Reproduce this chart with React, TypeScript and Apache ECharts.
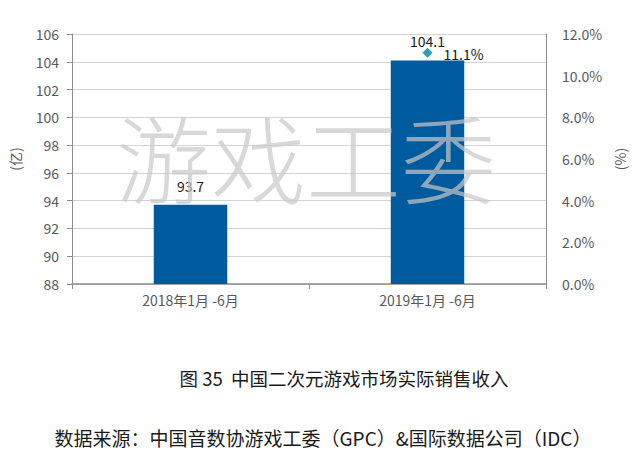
import React, { useEffect, useRef } from "react";
import * as echarts from "echarts";

const categories = ["2018年1月 -6月", "2019年1月 -6月"];
const revenue = [93.7, 104.1];
const growth: (number | null)[] = [null, 11.1];
const leftMin = 88;
const leftMax = 106;
const rightMin = 0;
const rightMax = 12;
const titleText = "图 35  中国二次元游戏市场实际销售收入";
const sourceText = "数据来源：中国音数协游戏工委（GPC）&国际数据公司（IDC）";
const watermark = "游戏工委";

const FONT = "'Noto Sans CJK SC', 'Noto Sans', sans-serif";

export default function App() {
  const ref = useRef<HTMLDivElement>(null);
  useEffect(() => {
    if (!ref.current) return;
    const chart = echarts.init(ref.current, undefined, { renderer: "svg" });
    chart.setOption({
      animation: false,
      backgroundColor: "#ffffff",
      textStyle: { fontFamily: FONT },
      title: [
        {
          text: titleText,
          left: 339,
          top: 364,
          textAlign: "center",
          textStyle: { fontSize: 18.5, fontWeight: "normal", color: "#1a1a1a", fontFamily: FONT },
        },
        {
          text: sourceText,
          left: 318,
          top: 423,
          textAlign: "center",
          textStyle: { fontSize: 19, fontWeight: "normal", color: "#1a1a1a", fontFamily: FONT },
        },
      ],
      grid: { left: 72, right: 94, top: 34, bottom: 190, containLabel: false },
      xAxis: {
        type: "category",
        data: categories,
        axisLine: { lineStyle: { color: "#8c8c8c", width: 1.5 } },
        axisTick: { show: true, length: 5, lineStyle: { color: "#8c8c8c" } },
        axisLabel: { color: "#595959", fontSize: 14, margin: 9, fontFamily: FONT },
      },
      yAxis: [
        {
          type: "value",
          min: leftMin,
          max: leftMax,
          interval: 2,
          name: "(亿)",
          nameLocation: "middle",
          nameRotate: 90,
          nameGap: 50,
          nameTextStyle: { color: "#595959", fontSize: 14, fontFamily: FONT },
          axisLine: { show: true, lineStyle: { color: "#8c8c8c" } },
          axisTick: { show: true, length: 5, lineStyle: { color: "#8c8c8c" } },
          axisLabel: { color: "#595959", fontSize: 14, margin: 13, fontFamily: FONT },
          splitLine: { show: true, lineStyle: { color: "#d4d4d4", width: 1 } },
        },
        {
          type: "value",
          min: rightMin,
          max: rightMax,
          interval: 2,
          name: "(%)",
          nameLocation: "middle",
          nameRotate: 90,
          nameGap: 64,
          nameTextStyle: { color: "#595959", fontSize: 14, fontFamily: FONT },
          axisLine: { show: true, lineStyle: { color: "#8c8c8c" } },
          axisTick: { show: false },
          axisLabel: {
            color: "#595959",
            fontSize: 14,
            margin: 16,
            fontFamily: FONT,
            formatter: (v: number) => v.toFixed(1) + "%",
          },
          splitLine: { show: false },
        },
      ],
      series: [
        {
          type: "bar",
          data: revenue,
          barWidth: "31%",
          itemStyle: { color: "#005a9e" },
          label: {
            show: true,
            position: "top",
            distance: 12,
            color: "#1a1a1a",
            fontSize: 14,
            fontFamily: FONT,
          },
          z: 2,
        },
        {
          type: "line",
          yAxisIndex: 1,
          data: growth,
          symbol: "diamond",
          symbolSize: 10,
          showSymbol: true,
          itemStyle: { color: "#2b9fae" },
          lineStyle: { width: 0 },
          label: {
            show: true,
            position: "right",
            distance: 11,
            offset: [0, 1],
            color: "#1a1a1a",
            fontSize: 14,
            fontFamily: FONT,
            formatter: (p: any) => p.value + "%",
          },
          z: 3,
        },
      ],
      graphic: [
        {
          type: "text",
          x: 306,
          y: 155,
          z: 100,
          silent: true,
          style: {
            text: watermark,
            align: "center",
            verticalAlign: "middle",
            fontSize: 95,
            fontWeight: 300,
            fontFamily: FONT,
            fill: "rgba(200,200,200,0.7)",
          },
        },
      ],
    });
    return () => chart.dispose();
  }, []);
  return <div ref={ref} style={{ width: 640, height: 474, position: "absolute", left: 0, top: 0 }} />;
}
